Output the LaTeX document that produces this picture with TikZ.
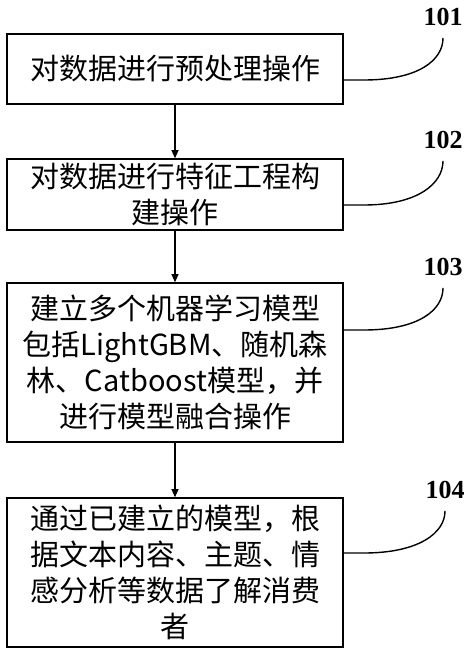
\documentclass[tikz,border=0pt]{standalone}
\usepackage{fontspec}
\newfontfamily\cjk{Noto Sans CJK SC}
\setmainfont{Liberation Serif}
\usetikzlibrary{arrows.meta}
\tikzset{
  stepbox/.style={draw, line width=1.6pt, minimum width=336pt, inner sep=0pt, align=center,
    font=\cjk\fontsize{29}{36}\selectfont},
  lbl/.style={inner sep=0pt, font=\bfseries\fontsize{26}{26}\selectfont},
  flow/.style={line width=1.2pt, -{Triangle[length=8pt,width=7pt]}},
  lead/.style={line width=1.4pt}
}
\begin{document}
\begin{tikzpicture}[x=1pt,y=-1pt]
\useasboundingbox (0,0) rectangle (474,655);
\node[stepbox, minimum height=70pt] (b1) at (175,69) {对数据进行预处理操作};
\node[stepbox, minimum height=71pt] (b2) at (175,194.5) {对数据进行特征工程构\\建操作};
\node[stepbox, minimum height=159pt] (b3) at (175,362.5) {建立多个机器学习模型\\包括LightGBM、随机森\\林、Catboost模型，并\\进行模型融合操作};
\node[stepbox, minimum height=149pt] (b4) at (175,572.5) {通过已建立的模型，根\\据文本内容、主题、情\\感分析等数据了解消费\\者};
\draw[flow] (b1) -- (b2);
\draw[flow] (b2) -- (b3);
\draw[flow] (b3) -- (b4);
\node[lbl] (l1) at (443,17) {101};
\node[lbl] (l2) at (443,140) {102};
\node[lbl] (l3) at (443,267) {103};
\node[lbl] (l4) at (445,490) {104};
\foreach \b/\l/\dy in {b1/l1/-11, b2/l2/-10.5, b3/l3/32.5, b4/l4/19.5} {
  \draw[lead] ([yshift=\dy pt]\b.east) -- ++(20,0) .. controls +(55,0) and +(0,22) .. ([yshift=-12pt]\l.south);
}
\end{tikzpicture}
\end{document}
